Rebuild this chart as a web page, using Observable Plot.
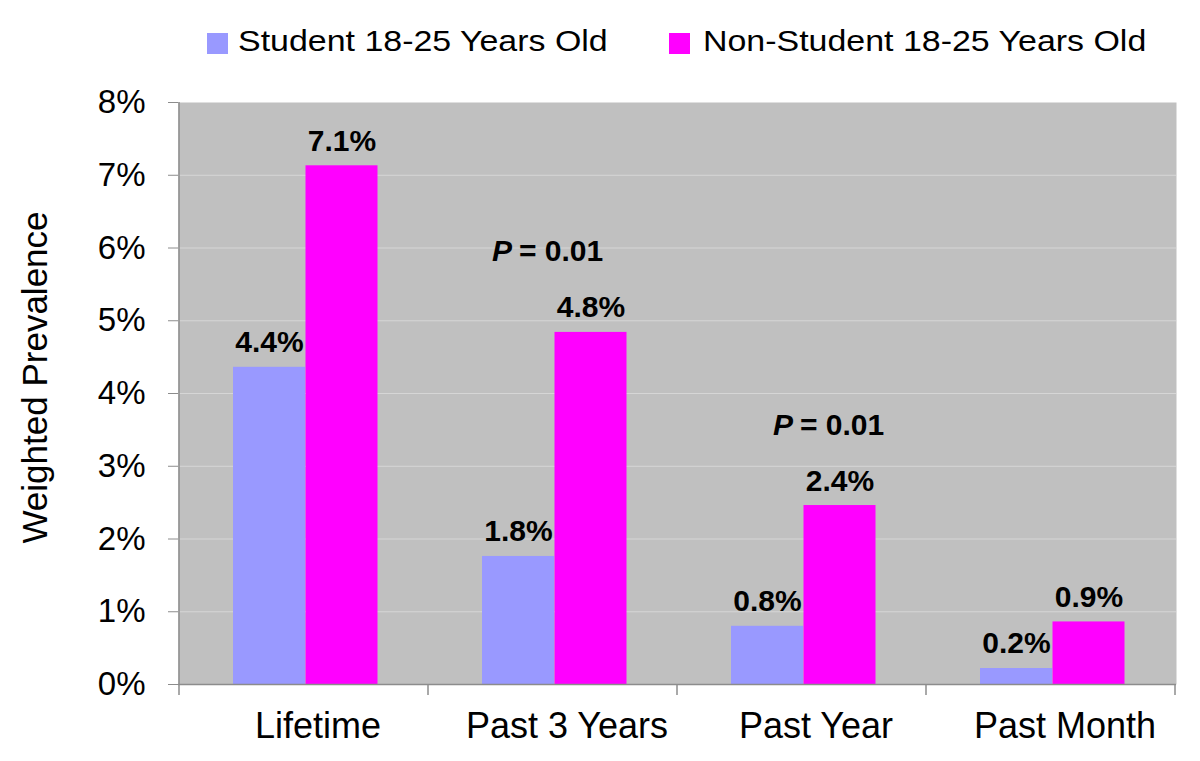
<!DOCTYPE html>
<html>
<head>
<meta charset="utf-8">
<script src="https://cdn.jsdelivr.net/npm/d3@7"></script>
<script src="https://cdn.jsdelivr.net/npm/@observablehq/plot@0.6"></script>
<style>
  html, body { margin: 0; padding: 0; background: #fff; overflow: hidden; }
  body { width: 1200px; height: 761px; position: relative; font-family: "Liberation Sans", Arial, sans-serif; }
  #legend { position: absolute; left: 0; top: 0; width: 1200px; height: 80px; }
  .sw { position: absolute; top: 33px; width: 21px; height: 21px; }
  .lt { position: absolute; top: 27px; font-size: 29px; line-height: 29px; white-space: nowrap; transform-origin: 0 0; transform: scaleX(1.17); color: #000; }
  #chart { position: absolute; left: 0; top: 80px; }
</style>
</head>
<body>
<div id="legend"></div>
<div id="chart"></div>
<script>
const categories = ["Lifetime", "Past 3 Years", "Past Year", "Past Month"];
const studentValues = [4.36, 1.76, 0.80, 0.22];
const nonStudentValues = [7.13, 4.84, 2.46, 0.86];
const studentLabels = ["4.4%", "1.8%", "0.8%", "0.2%"];
const nonStudentLabels = ["7.1%", "4.8%", "2.4%", "0.9%"];
const seriesNames = ["Student 18-25 Years Old", "Non-Student 18-25 Years Old"];
const seriesColors = ["#9999ff", "#ff00ff"];
const yTicks = [0, 1, 2, 3, 4, 5, 6, 7, 8];
const gridTicks = [1, 2, 3, 4, 5, 6, 7];
const yTitle = "Weighted Prevalence";
const pCategories = ["Past 3 Years", "Past Year"];
const pValues = [5.95, 3.56];
const pLetter = "P";
const pRest = "= 0.01";

// Legend
const legend = document.getElementById("legend");
const legendSwatchX = [207, 669];
const legendTextX = [238, 703];
seriesNames.forEach((name, i) => {
  const sw = document.createElement("div");
  sw.className = "sw";
  sw.style.left = legendSwatchX[i] + "px";
  sw.style.background = seriesColors[i];
  legend.appendChild(sw);
  const t = document.createElement("div");
  t.className = "lt";
  t.style.left = legendTextX[i] + "px";
  t.textContent = name;
  legend.appendChild(t);
});

const student = categories.map((c, i) => ({category: c, value: studentValues[i], label: studentLabels[i]}));
const nonStudent = categories.map((c, i) => ({category: c, value: nonStudentValues[i], label: nonStudentLabels[i]}));

const font = "'Liberation Sans', Arial, sans-serif";
const bw = 249.5; // approximate band width for bar insets

const pMarks = [];
const pDx = [-38, -6];
pCategories.forEach((c, i) => {
  const d = [{category: c, value: pValues[i]}];
  pMarks.push(Plot.text(d, {x: "category", y: "value", text: () => pLetter, textAnchor: "end", dx: pDx[i] - 3, fontSize: 30, fontWeight: "bold", fontStyle: "italic", fill: "#000", lineAnchor: "middle"}));
  pMarks.push(Plot.text(d, {x: "category", y: "value", text: () => pRest, textAnchor: "start", dx: pDx[i] + 4, fontSize: 30, fontWeight: "bold", fill: "#000", lineAnchor: "middle"}));
});

const svg = Plot.plot({
  width: 1200,
  height: 681,
  marginLeft: 178,
  marginRight: 24,
  marginTop: 22,
  marginBottom: 77,
  style: {fontFamily: font, color: "#000", background: "transparent", overflow: "visible"},
  x: {type: "band", domain: categories, padding: 0, label: null},
  y: {domain: [0, 8], label: null},
  marks: [
    Plot.frame({fill: "#c0c0c0", stroke: "none"}),
    Plot.gridY(gridTicks, {stroke: "#d6d6d6", strokeOpacity: 1, strokeWidth: 1}),
    Plot.barY(student, {x: "category", y: "value", fill: seriesColors[0], insetLeft: 54, insetRight: bw - 54 - 72.5}),
    Plot.barY(nonStudent, {x: "category", y: "value", fill: seriesColors[1], insetLeft: 126.5, insetRight: bw - 126.5 - 72.5}),
    Plot.text(student, {x: "category", y: "value", text: "label", dx: -34.5, dy: -15, lineAnchor: "bottom", fontSize: 30, fontWeight: "bold", fill: "#000"}),
    Plot.text(nonStudent, {x: "category", y: "value", text: "label", dx: 38, dy: -15, lineAnchor: "bottom", fontSize: 30, fontWeight: "bold", fill: "#000"}),
    ...pMarks,
    Plot.ruleY([0], {stroke: "#8c8c8c", strokeWidth: 1.5}),
    Plot.axisY(yTicks, {tickSize: 10, tickPadding: 23, tickFormat: d => d + "%", fontSize: 33, stroke: "#8c8c8c", fill: "#000", label: null}),
    Plot.axisX({tickSize: 0, tickPadding: 28, fontSize: 36, dx: 14, fill: "#000", label: null}),
    Plot.text([yTitle], {frameAnchor: "left", dx: -143, dy: -16, rotate: -90, fontSize: 35, fill: "#000", lineAnchor: "middle", textAnchor: "middle"})
  ]
});

// axis line on the left and category boundary ticks from the scales
const xs = svg.scale("x");
const ys = svg.scale("y");
const g = d3.select(svg).append("g").attr("stroke", "#8c8c8c").attr("stroke-width", 1.5);
const left = xs.apply(categories[0]);
const y0 = ys.apply(0), y8 = ys.apply(8);
g.append("line").attr("x1", left).attr("x2", left).attr("y1", y8).attr("y2", y0);
const bounds = categories.map(c => xs.apply(c)).concat([xs.apply(categories[categories.length - 1]) + xs.bandwidth]);
bounds.forEach(b => {
  g.append("line").attr("x1", b).attr("x2", b).attr("y1", y0).attr("y2", y0 + 11);
});

document.getElementById("chart").appendChild(svg);
</script>
</body>
</html>
